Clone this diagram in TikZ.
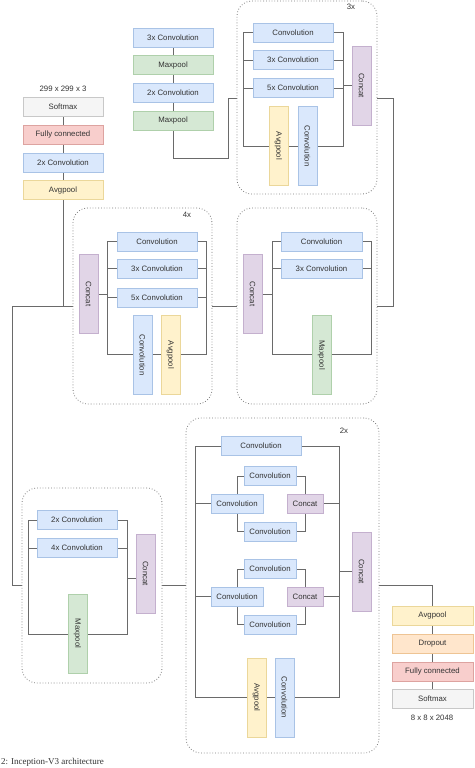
\documentclass[tikz,border=0pt]{standalone}
\usepackage{fontspec}
\setmainfont{Liberation Sans}
\newfontfamily\capfont{Liberation Serif}
\usepackage{graphicx}
\usetikzlibrary{backgrounds}
\definecolor{blueF}{HTML}{DAE8FC}\definecolor{blueD}{HTML}{A9C3E6}
\definecolor{greenF}{HTML}{D5E8D4}\definecolor{greenD}{HTML}{AFD0AB}
\definecolor{yellowF}{HTML}{FFF2CC}\definecolor{yellowD}{HTML}{EBD79A}
\definecolor{redF}{HTML}{F8CECC}\definecolor{redD}{HTML}{DDA3A0}
\definecolor{purpleF}{HTML}{E1D5E7}\definecolor{purpleD}{HTML}{C4B0CE}
\definecolor{orangeF}{HTML}{FFE6CC}\definecolor{orangeD}{HTML}{EEC494}
\definecolor{grayF}{HTML}{F5F5F5}\definecolor{grayD}{HTML}{C8C8C8}
\definecolor{txt}{HTML}{333333}
\definecolor{wireC}{HTML}{6A6A6A}
\definecolor{grpD}{HTML}{7A7A7A}
\newcommand{\vtxt}[1]{\rotatebox{-90}{#1}}
\tikzset{
  blk/.style={rectangle, inner sep=0pt, line width=0.6pt, font=\fontsize{7.8}{9}\selectfont, text=txt},
  sblue/.style={blk, fill=blueF, draw=blueD},
  sgreen/.style={blk, fill=greenF, draw=greenD},
  syellow/.style={blk, fill=yellowF, draw=yellowD},
  sred/.style={blk, fill=redF, draw=redD},
  spurple/.style={blk, fill=purpleF, draw=purpleD},
  sorange/.style={blk, fill=orangeF, draw=orangeD},
  sgray/.style={blk, fill=grayF, draw=grayD},
  hb/.style={minimum width=80, minimum height=19},
  hbw/.style={minimum width=81, minimum height=19},
  sm/.style={minimum width=52, minimum height=19},
  vb/.style={minimum width=19, minimum height=79},
  grp/.style={draw=grpD, dotted, rounded corners=15pt, line width=0.8pt, inner sep=0pt},
  plain/.style={inner sep=0pt, font=\fontsize{7.8}{9}\selectfont, text=txt},
  wire/.style={draw=wireC, line width=0.8pt},
}
\begin{document}
\begin{tikzpicture}[x=1pt,y=-1pt]
\path[use as bounding box] (0,0) rectangle (474,768);

% left stack
\node[plain] (in1) at (63,89) {299 x 299 x 3};
\node[sgray,hb] (ls1) at (63,106.5) {Softmax};
\node[sred,hb] (ls2) at (63,134.5) {Fully connected};
\node[sblue,hb] (ls3) at (63,162.5) {2x Convolution};
\node[syellow,hb] (ls4) at (63,190) {Avgpool};

% top stack
\node[sblue,hb] (ts1) at (173,37.5) {3x Convolution};
\node[sgreen,hb] (ts2) at (173,65) {Maxpool};
\node[sblue,hb] (ts3) at (173,92.5) {2x Convolution};
\node[sgreen,hb] (ts4) at (173,120.5) {Maxpool};

% group 1
\node[grp, minimum width=140, minimum height=193] (g1) at (307,97.5) {};
\node[plain] (g1l) at (351,7) {3x};
\node[sblue,hb] (g1a) at (293,32.5) {Convolution};
\node[sblue,hb] (g1b) at (293,60) {3x Convolution};
\node[sblue,hb] (g1c) at (293,88) {5x Convolution};
\node[syellow,vb] (g1d) at (278.5,146) {\vtxt{Avgpool}};
\node[sblue,vb] (g1e) at (307.5,146) {\vtxt{Convolution}};
\node[spurple,vb] (g1f) at (361.5,85.5) {\vtxt{Concat}};
\coordinate (b1l) at (243,146); \coordinate (b1r) at (343,146);

% group 2
\node[grp, minimum width=139, minimum height=196] (g2) at (142.5,306) {};
\node[plain] (g2l) at (187,215) {4x};
\node[sblue,hb] (g2a) at (157,241.5) {Convolution};
\node[sblue,hb] (g2b) at (157,268.5) {3x Convolution};
\node[sblue,hb] (g2c) at (157,297.5) {5x Convolution};
\node[sblue,vb] (g2d) at (142.5,355) {\vtxt{Convolution}};
\node[syellow,vb] (g2e) at (170.5,355) {\vtxt{Avgpool}};
\node[spurple,vb] (g2f) at (88.5,294) {\vtxt{Concat}};
\coordinate (b2l) at (107,354); \coordinate (b2r) at (206,354);

% group 3
\node[grp, minimum width=140, minimum height=196] (g3) at (307,306) {};
\node[sblue,hbw] (g3a) at (321.5,241.5) {Convolution};
\node[sblue,hbw] (g3b) at (321.5,268.5) {3x Convolution};
\node[spurple,vb] (g3c) at (252.5,294) {\vtxt{Concat}};
\node[sgreen,vb] (g3d) at (321.5,355) {\vtxt{Maxpool}};
\coordinate (b3l) at (272,354); \coordinate (b3r) at (371,354);

% group 4
\node[grp, minimum width=140, minimum height=195] (g4) at (92,585.5) {};
\node[sblue,hb] (g4a) at (77,520) {2x Convolution};
\node[sblue,hb] (g4b) at (77,548) {4x Convolution};
\node[spurple,vb] (g4c) at (145.5,573.5) {\vtxt{Concat}};
\node[sgreen,vb] (g4d) at (77.5,633.5) {\vtxt{Maxpool}};
\coordinate (b4l) at (28,634); \coordinate (b4r) at (127,634);

% group 5
\node[grp, minimum width=193, minimum height=335] (g5) at (282.5,585.5) {};
\node[plain] (g5lab) at (344,431) {2x};
\node[sblue,hb] (g5a) at (261,446) {Convolution};
\node[sblue,sm] (g5b) at (270,476) {Convolution};
\node[sblue,sm] (g5c) at (237,503.5) {Convolution};
\node[spurple,minimum width=36,minimum height=19] (g5d) at (305,503.5) {Concat};
\node[sblue,sm] (g5e) at (270,531.5) {Convolution};
\node[sblue,sm] (g5f) at (270,569) {Convolution};
\node[sblue,sm] (g5g) at (237,596.5) {Convolution};
\node[spurple,minimum width=36,minimum height=19] (g5h) at (305,596.5) {Concat};
\node[sblue,sm] (g5i) at (270,624.5) {Convolution};
\node[syellow,vb] (g5j) at (256.5,697.5) {\vtxt{Avgpool}};
\node[sblue,vb] (g5k) at (284.5,697.5) {\vtxt{Convolution}};
\node[spurple,vb] (g5m) at (361.5,571.5) {\vtxt{Concat}};
\coordinate (b5l) at (195,697); \coordinate (b5r) at (339,697);

% right stack
\node[syellow,hbw] (rs1) at (432.5,615.5) {Avgpool};
\node[sorange,hbw] (rs2) at (432.5,643.5) {Dropout};
\node[sred,hbw] (rs3) at (432.5,671.5) {Fully connected};
\node[sgray,hbw] (rs4) at (432.5,699) {Softmax};
\node[plain] (out1) at (432,718) {8 x 8 x 2048};

\coordinate (c1) at (228,158);
\coordinate (c1b) at (230,98);
\coordinate (c3) at (12,0);
\coordinate (c4) at (393,98);
\coordinate (c5) at (130,578);

\begin{scope}[on background layer]
\draw[wire] (ls1) -- (ls2); \draw[wire] (ls2) -- (ls3); \draw[wire] (ls3) -- (ls4);
\draw[wire] (ts1) -- (ts2); \draw[wire] (ts2) -- (ts3); \draw[wire] (ts3) -- (ts4);
\draw[wire] (ts4.south) |- (c1) |- (g1.west |- c1b);
% g1
\draw[wire] (g1a.west) -| (b1l) -- (b1r) |- (g1a.east);
\draw[wire] (g1b.west) -- (g1b.west -| b1l);
\draw[wire] (g1b.east) -- (g1b.east -| b1r);
\draw[wire] (g1c.west) -- (g1c.west -| b1l);
\draw[wire] (g1c.east) -- (g1c.east -| b1r);
\draw[wire] (g1f.west) -- (g1f.west -| b1r);
\draw[wire] (g1.east |- c4) -- (c4) |- (g3.east);
% g2
\draw[wire] (g2a.west) -| (b2l) -- (b2r) |- (g2a.east);
\draw[wire] (g2b.west) -- (g2b.west -| b2l);
\draw[wire] (g2b.east) -- (g2b.east -| b2r);
\draw[wire] (g2c.west) -- (g2c.west -| b2l);
\draw[wire] (g2c.east) -- (g2c.east -| b2r);
\draw[wire] (g2f.east) -- (g2f.east -| b2l);
\draw[wire] (ls4.south) |- (g2.west);
\draw[wire] (g2.west) -- (g2.west -| c3) |- (g4.west);
\draw[wire] (g2.east) -- (g3.west);
% g3
\draw[wire] (g3a.west) -| (b3l) -- (b3r) |- (g3a.east);
\draw[wire] (g3b.west) -- (g3b.west -| b3l);
\draw[wire] (g3b.east) -- (g3b.east -| b3r);
\draw[wire] (g3c.east) -- (g3c.east -| b3l);
% g4
\draw[wire] (g4a.west) -| (b4l) -- (b4r) |- (g4a.east);
\draw[wire] (g4b.west) -- (g4b.west -| b4l);
\draw[wire] (g4b.east) -- (g4b.east -| b4r);
\draw[wire] (g4c.west |- c5) -- (c5 -| b4r);
\draw[wire] (g4.east) -- (g5.west);
% g5
\draw[wire] (g5a.west) -| (b5l) -- (b5r) |- (g5a.east);
\draw[wire] (g5c.west) -- (g5c.west -| b5l);
\draw[wire] (g5d.east) -- (g5d.east -| b5r);
\draw[wire] (g5b.west) -| (g5c.north);
\draw[wire] (g5e.west) -| (g5c.south);
\draw[wire] (g5b.east) -| (g5d.north);
\draw[wire] (g5e.east) -| (g5d.south);
\draw[wire] (g5g.west) -- (g5g.west -| b5l);
\draw[wire] (g5h.east) -- (g5h.east -| b5r);
\draw[wire] (g5f.west) -| (g5g.north);
\draw[wire] (g5i.west) -| (g5g.south);
\draw[wire] (g5f.east) -| (g5h.north);
\draw[wire] (g5i.east) -| (g5h.south);
\draw[wire] (g5m.west) -- (g5m.west -| b5r);
\draw[wire] (g5.east) -| (rs1.north);
\draw[wire] (rs1) -- (rs2); \draw[wire] (rs2) -- (rs3); \draw[wire] (rs3) -- (rs4);
\end{scope}

\node[inner sep=0pt, anchor=north west, font=\capfont\fontsize{9}{11}\selectfont, text=txt] (cap) at (1,758) {2: Inception-V3 architecture};
\end{tikzpicture}
\end{document}
